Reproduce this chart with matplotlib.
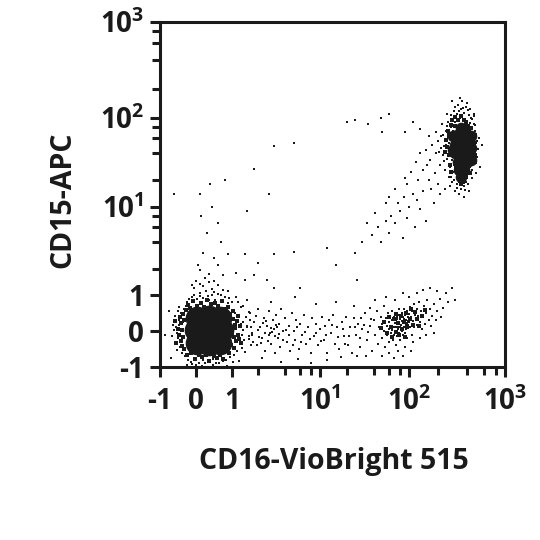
import numpy as np
import matplotlib
matplotlib.use('Agg')
import matplotlib.pyplot as plt

plt.rcParams['font.family'] = ['Open Sans', 'DejaVu Sans']
plt.rcParams['font.weight'] = 'bold'
plt.rcParams['mathtext.fontset'] = 'custom'
plt.rcParams['mathtext.rm'] = 'Open Sans:bold'

x_title = 'CD16-VioBright 515'
y_title = 'CD15-APC'
major_vals = [-1, 0, 1, 10, 100, 1000]
major_labels = ['-1', '0', '1', r'$\mathregular{10^{1}}$', r'$\mathregular{10^{2}}$', r'$\mathregular{10^{3}}$']
minor_vals = [2, 4, 6, 8, 20, 40, 60, 80, 200, 400, 600, 800]

# solid middle of the two big populations
neg_core = [(0.36, 0.03), (0.36, 0.4), (0.36, -0.36), (0.0, 0.03), (0.72, 0.03), (0.04, 0.36),
            (0.68, 0.36), (0.04, -0.32), (0.68, -0.32), (0.2, 0.2), (0.52, -0.15), (0.2, -0.15), (0.52, 0.2)]
high_core = [(345, 78), (385, 72), (315, 64), (360, 62), (405, 60), (300, 50), (340, 50), (385, 50), (425, 50),
             (305, 40), (345, 40), (385, 40), (420, 40), (325, 32), (360, 32), (400, 32), (335, 26), (370, 26), (350, 22),
             (440, 62), (445, 46), (290, 62), (285, 44), (440, 34)]

# thick speckle just outside the solid parts
neg_halo = [
 (-0.42, 0.22), (-0.47, -0.12), (-0.4, -0.41), (-0.36, 0.48), (-0.51, 0.05), (-0.44, 0.38), (-0.38, 0.02), (-0.43, -0.27),
 (-0.22, 0.71), (-0.07, 0.82), (0.13, 0.77), (0.31, 0.86), (0.52, 0.79), (0.71, 0.82), (0.89, 0.66), (1.03, 0.55),
 (-0.26, -0.68), (-0.04, -0.78), (0.17, -0.72), (0.36, -0.83), (0.58, -0.75), (0.76, -0.79), (0.93, -0.62), (1.06, -0.47),
 (1.14, 0.28), (1.09, 0.07), (1.17, -0.11), (1.11, -0.29), (1.02, 0.33), (1.05, -0.18), (1.23, 0.14), (1.28, -0.34),
 (-0.33, 0.31), (-0.35, -0.18), (-0.32, -0.5), (-0.29, 0.58), (-0.16, 0.63), (0.02, 0.7), (0.22, 0.68), (0.43, 0.74),
 (0.62, 0.7), (0.81, 0.62), (0.94, 0.46), (-0.14, -0.61), (0.07, -0.67), (0.27, -0.66), (0.49, -0.7), (0.67, -0.68),
 (0.84, -0.55), (0.97, -0.38), (1.07, 0.18), (1.16, 0.42), (1.0, -0.05), (1.2, -0.23), (-0.55, -0.34), (-0.58, 0.27)]
high_halo = [
 (262, 62), (250, 47), (258, 38), (271, 84), (268, 30), (245, 56), (280, 96), (276, 25), (305, 102), (298, 82),
 (310, 27), (322, 94), (330, 21), (345, 104), (352, 18), (372, 96), (365, 19), (396, 88), (410, 81), (392, 23),
 (412, 26), (446, 78), (462, 60), (470, 44), (458, 33), (478, 53), (437, 24), (488, 38), (254, 72), (236, 42)]
mid_halo = [
 (62, 0.12), (68, 0.33), (72, -0.03), (76, 0.22), (81, 0.43), (84, 0.06), (88, 0.26), (92, 0.5), (96, 0.13), (102, 0.33),
 (106, 0.6), (110, 0.18), (116, 0.52), (121, 0.32), (57, -0.06), (65, -0.17), (78, -0.12), (90, -0.18), (53, 0.25), (49, 0.07),
 (135, 0.43), (127, 0.15), (147, 0.58), (71, 0.48), (60, 0.38)]

neg_fringe = [
 (-0.55, 0.1), (-0.5, -0.2), (-0.48, 0.3), (-0.45, -0.45), (-0.42, 0.5), (-0.4, 0.0), (-0.38, -0.6), (-0.36, 0.25),
 (-0.52, -0.05), (-0.47, 0.18), (-0.44, -0.3), (-0.41, 0.38), (-0.35, -0.52), (-0.33, 0.6), (-0.3, -0.7), (-0.28, 0.7),
 (-0.6, 0.02), (-0.57, 0.41), (-0.59, -0.31), (-0.64, 0.17), (-0.53, -0.54), (-0.5, 0.56), (-0.68, -0.13), (-0.46, 0.67),
 (-0.25, 0.8), (-0.22, -0.8), (-0.2, 0.88), (-0.15, -0.85), (-0.12, 0.95), (-0.1, -0.92), (-0.05, 1.0), (0.0, -0.95),
 (0.04, 0.9), (0.08, -0.88), (0.12, 1.05), (0.16, -0.98), (0.2, 0.92), (0.24, -0.9), (0.28, 1.1), (0.3, -1.0),
 (0.36, 0.85), (0.4, -0.85), (0.44, 1.0), (0.48, -0.95), (0.52, 0.86), (0.56, -0.88), (0.6, 1.02), (0.64, -0.9),
 (0.7, 0.85), (0.74, -0.82), (0.8, 0.95), (0.84, -0.8), (0.9, 0.78), (0.95, -0.72), (1.0, 0.8), (1.05, -0.68),
 (0.9, 0.55), (1.19, 0.4), (1.25, 0.2), (1.3, -0.1), (1.22, -0.35), (1.14, -0.55), (1.08, 0.5), (1.32, 0.25),
 (1.35, 0.02), (1.38, -0.25), (1.3, -0.48), (1.45, 0.4), (1.5, 0.1), (1.55, -0.15), (1.6, 0.3), (1.65, -0.4),
 (-0.1, 0.87), (0.1, 0.98), (0.33, 0.97), (0.5, 1.07), (0.7, 1.0), (-0.08, -1.01), (0.2, -0.81), (0.47, -0.79),
 (-0.75, 0.55), (-0.85, -0.1), (-0.7, -0.75), (-0.05, 1.2), (0.2, 1.25), (0.45, 1.18), (0.1, 1.35), (0.35, 1.4),
 (0.6, 1.3), (0.75, 1.15), (0.0, 1.45), (0.25, 1.55), (-0.1, 1.3), (0.9, 1.1), (1.1, 0.95), (0.5, 1.45),
 (0.4, -1.03), (0.1, -1.05), (0.55, -1.02), (-0.25, -0.95), (0.85, -0.98), (1.2, -0.82), (1.35, 0.7), (1.5, 0.15),
 (1.42, -0.58), (1.58, 0.52), (1.7, -0.05), (1.27, 0.67), (1.18, 0.81), (1.03, -0.87), (0.68, -1.0), (0.93, 0.91)]

high_fringe = [
 (190, 70), (200, 55), (205, 42), (210, 30), (215, 62), (220, 85), (225, 38), (230, 48), (235, 26), (240, 72),
 (245, 58), (250, 35), (255, 90), (258, 44), (262, 52), (265, 28), (268, 68), (270, 40), (272, 80), (275, 22),
 (278, 58), (280, 34), (282, 46), (284, 72), (286, 25), (288, 95), (290, 55), (292, 30), (294, 84), (296, 20),
 (298, 66), (300, 105), (302, 28), (305, 90), (310, 24), (312, 100), (315, 18), (318, 110), (322, 22), (325, 92),
 (328, 19), (332, 118), (338, 20), (342, 100), (346, 16), (350, 125), (356, 18), (362, 95), (366, 21), (372, 112),
 (378, 17), (384, 98), (388, 19), (394, 130), (400, 21), (406, 92), (412, 18), (418, 108), (424, 24), (430, 88),
 (436, 28), (440, 100), (446, 33), (450, 78), (455, 26), (460, 65), (465, 40), (470, 85), (472, 48), (478, 32),
 (480, 58), (485, 72), (490, 42), (495, 52), (500, 66), (510, 36), (520, 45), (530, 60), (545, 28), (570, 50),
 (280, 150), (340, 160), (400, 145), (360, 150), (300, 130), (250, 110), (430, 125), (470, 110), (235, 16), (300, 15),
 (330, 14), (370, 13), (265, 17), (420, 15), (500, 24), (190, 40), (175, 50), (165, 34), (160, 62), (480, 105),
 (233, 33), (247, 82), (262, 22), (241, 50), (228, 65), (274, 107), (293, 118), (327, 135), (367, 128), (415, 120),
 (452, 97), (492, 83), (510, 55), (495, 31), (455, 21), (383, 15.5), (318, 16.5), (281, 19), (217, 46), (253, 66)]

diagonal = [
 (150, 44), (130, 40), (118, 32), (140, 26), (105, 25), (160, 20), (125, 20), (95, 18), (170, 16), (140, 15),
 (110, 14), (88, 13), (75, 11), (100, 10), (130, 9.5), (80, 9), (62, 8), (95, 7.5), (55, 7), (70, 6.5),
 (45, 6), (115, 6), (60, 5), (38, 4.8), (85, 4.5), (48, 4), (30, 4), (180, 11), (210, 14), (185, 24),
 (155, 30), (200, 18), (70, 16), (55, 11), (150, 7), (42, 8.5), (120, 12), (60, 13), (90, 21), (34, 6.5),
 (25, 3), (15, 2.2), (12, 3.4), (5, 3.1), (3, 2.9), (2, 2.3), (1.4, 2.9), (26, 1.5),
 (0.2, 3), (0.5, 2.6), (0.05, 2.2), (0.7, 4), (0.9, 2.9), (0.3, 5), (0.6, 6.5), (0.15, 8), (0.45, 10), (0.1, 14),
 (0.4, 18), (0.8, 20), (1.5, 9), (1.1, 1.8), (1.8, 1.7), (2.5, 1.5), (0.75, 1.7),
 (1.4, 1.5), (3, 1.2), (6, 1.2), (0.1, 1.9), (0.35, 1.75), (0.62, 2.2), (-0.6, 14),
 (20, 90), (25, 95), (35, 85), (60, 110), (48, 100), (5, 52), (3, 48), (50, 70), (1.8, 27),
 (2.6, 14), (90, 70), (110, 90), (130, 75)]

bridge = [
 (1.6, 0.5), (1.7, -0.1), (1.8, 0.25), (1.9, -0.4), (2, 0.6), (2.1, 0.1), (2.2, -0.2), (2.3, 0.35), (2.4, -0.55), (2.5, 0.15),
 (2.6, 0.55), (2.7, -0.05), (2.8, -0.35), (2.9, 0.3), (3, 0.05), (3.1, -0.6), (3.2, 0.45), (3.3, -0.2), (3.4, 0.2), (3.5, -0.45),
 (3.6, 0.6), (3.8, 0.0), (4, 0.35), (4.2, -0.3), (4.4, 0.15), (4.6, -0.55), (4.8, 0.5), (5, 0.0), (5.2, -0.25), (5.4, 0.3),
 (5.7, -0.5), (6, 0.2), (6.3, -0.1), (6.6, 0.45), (7, -0.35), (7.4, 0.1), (7.8, -0.6), (8.2, 0.35), (8.6, -0.15), (9, 0.2),
 (9.5, -0.4), (10, 0.05), (10.5, 0.4), (11, -0.25), (11.5, 0.15), (12, -0.6), (12.6, 0.3), (13.2, -0.05), (14, 0.45), (14.8, -0.35),
 (15.5, 0.1), (16.5, -0.5), (17.5, 0.25), (18.5, -0.15), (19.5, 0.4), (20.5, -0.4), (22, 0.1), (23, -0.6), (24, 0.35), (25.5, -0.1),
 (27, 0.2), (28.5, -0.45), (30, 0.05), (32, 0.5), (34, -0.25), (36, 0.15), (38, -0.55), (2.2, -0.75), (3.6, -0.85), (5.6, -0.78),
 (8, -0.9), (12, -0.8), (17, -0.72), (26, -0.7), (1.5, 0.85), (2.8, 0.8), (5.2, 0.95), (9, 0.75), (15, 0.8), (24, 0.7),
 (1.65, 0.12), (1.75, -0.31), (1.95, 0.03), (2.05, -0.16), (2.25, 0.22), (2.35, -0.06), (2.55, -0.27), (2.75, 0.09), (3.05, -0.13), (3.25, 0.11),
 (1.55, -0.22), (1.85, 0.42), (2.15, -0.33), (2.45, 0.28), (2.65, -0.12), (2.85, -0.03), (3.15, 0.18), (3.45, -0.08), (3.75, -0.25), (4.1, 0.02),
 (4.5, -0.12), (4.9, -0.38), (5.5, 0.12), (6.1, -0.3), (6.8, -0.02), (7.6, -0.22), (8.9, -0.05), (10.2, -0.28), (11.8, -0.1), (13.8, 0.18),
 (16, -0.18), (18, 0.06), (21, -0.14), (24.5, 0.12), (28, -0.2), (31, 0.18), (35, -0.02), (37.5, 0.34), (29, 0.36), (19, -0.36)]

mid_pop = [
 (40, 0.3), (42, -0.1), (44, 0.55), (45, -0.35), (46, 0.1), (48, 0.4), (50, -0.2), (50, 0.2), (52, 0.7), (53, 0.0),
 (54, -0.45), (55, 0.35), (56, 0.15), (57, -0.1), (58, 0.5), (59, 0.25), (60, -0.3), (60, 0.05), (61, 0.4), (62, 0.15),
 (63, -0.05), (64, 0.3), (65, 0.55), (66, -0.25), (67, 0.1), (68, 0.4), (68, -0.1), (69, 0.22), (70, 0.0), (70, 0.5),
 (71, 0.3), (72, -0.4), (72, 0.12), (73, 0.38), (74, -0.15), (75, 0.25), (75, 0.05), (76, 0.45), (77, -0.05), (78, 0.2),
 (78, 0.6), (79, 0.32), (80, 0.1), (80, -0.25), (81, 0.4), (82, 0.18), (83, 0.0), (84, 0.5), (85, 0.28), (85, -0.12),
 (86, 0.38), (87, 0.1), (88, 0.62), (89, 0.22), (90, 0.45), (90, -0.05), (92, 0.3), (93, 0.12), (94, 0.55), (95, 0.22),
 (96, -0.2), (97, 0.38), (98, 0.08), (100, 0.48), (100, 0.25), (102, 0.68), (103, 0.12), (105, 0.38), (107, -0.1), (108, 0.55),
 (110, 0.28), (112, 0.75), (114, 0.1), (116, 0.45), (118, 0.3), (120, 0.62), (122, 0.18), (125, 0.42), (128, 0.8), (130, 0.25),
 (133, 0.55), (136, 0.05), (140, 0.38), (143, 0.7), (147, 0.2), (150, 0.5), (155, 0.85), (160, 0.3), (165, 0.6), (170, 0.15),
 (175, 0.42), (182, 0.75), (190, 0.3), (198, 0.55), (208, 0.9), (218, 0.4), (228, 0.65), (240, 1.05), (255, 0.8), (42, 0.85),
 (55, 0.95), (70, 0.85), (85, 1.05), (100, 0.95), (120, 1.05), (140, 1.15), (165, 1.2), (195, 1.1), (60, -0.6), (75, -0.55),
 (90, -0.45), (110, -0.3), (130, -0.2), (50, -0.7), (68, -0.75), (85, -0.7), (105, -0.55), (150, -0.1), (180, -0.05), (280, 1.2),
 (300, 0.85), (36, 0.65), (33, -0.7), (64, 0.02), (74, 0.32), (83, 0.28), (92, 0.05), (76, 0.12), (88, 0.32), (98, 0.28)]


def to_pos(v):
    v = np.asarray(v, dtype=float)
    high = 1 + np.interp(np.log10(np.clip(v, 1, None)), [0, 1, 2, 3], [0, 88, 177, 273]) / 36
    return np.where(v <= 1, v, high)


def from_pos(p):
    p = np.asarray(p, dtype=float)
    high = 10 ** np.interp((p - 1) * 36, [0, 88, 177, 273], [0, 1, 2, 3])
    return np.where(p <= 1, p, high)


fig = plt.figure(figsize=(5.4, 5.4), dpi=100)
ax = fig.add_axes([160 / 540, 1 - 367 / 540, 345 / 540, 345 / 540])
ax.set_xscale('function', functions=(to_pos, from_pos))
ax.set_yscale('function', functions=(to_pos, from_pos))
ax.set_xlim(-1, 1000)
ax.set_ylim(-1, 1000)

for pop, size in [(neg_fringe, 3.4), (high_fringe, 3.4), (diagonal, 2.2), (bridge, 2.6), (mid_pop, 3.2),
                  (neg_halo, 7), (high_halo, 7), (mid_halo, 6), (neg_core, 290), (high_core, 70)]:
    xy = np.array(pop).T
    ax.scatter(xy[0], xy[1], s=size, c='#1a1a1a', marker='s' if size < 50 else 'o', linewidths=0)

for axis in [ax.xaxis, ax.yaxis]:
    axis.set_ticks(major_vals)
    axis.set_ticklabels(major_labels)
    axis.set_ticks(minor_vals, minor=True)
    axis.set_minor_formatter(matplotlib.ticker.NullFormatter())
ax.tick_params(which='major', length=7.5, width=2.2, color='#1a1a1a', labelsize=20, labelcolor='#1a1a1a')
ax.tick_params(axis='x', which='major', pad=7)
ax.tick_params(axis='y', which='major', pad=4)
ax.tick_params(which='minor', length=5.5, width=2.2, color='#1a1a1a')
for s in ax.spines.values():
    s.set_linewidth(2.2)
    s.set_color('#1a1a1a')

fig.text(334 / 540, 1 - 462 / 540, x_title, ha='center', va='center', fontsize=20.5, color='#1a1a1a')
fig.text(63 / 540, 1 - 200 / 540, y_title, ha='center', va='center', rotation=90, fontsize=20.5, color='#1a1a1a')

fig.savefig('out.png', dpi=100)
